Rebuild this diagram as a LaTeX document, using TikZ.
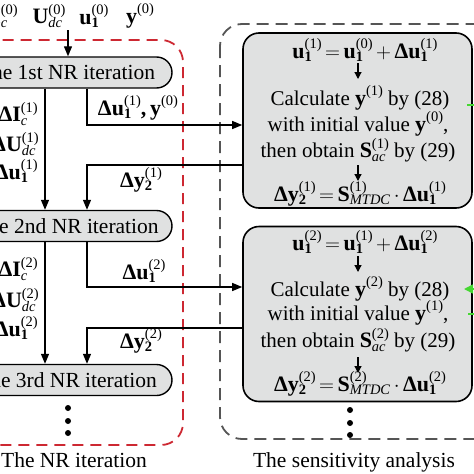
\documentclass[tikz,border=0pt]{standalone}
\usepackage{amsmath}
\usepackage{fontspec}
\setmainfont{Liberation Serif}
\usetikzlibrary{arrows.meta}
\definecolor{nrred}{RGB}{205,40,50}
\definecolor{sagray}{RGB}{85,85,85}
\definecolor{boxfill}{RGB}{224,225,225}
\definecolor{grn}{RGB}{70,215,50}
% bold symbol
\newcommand{\M}[1]{{\fontsize{22}{22}\selectfont\bfseries #1}}
% stacked sub/superscript: #1 sub, #2 sup
\newcommand{\SB}[2]{{\fontsize{14.5}{14.5}\selectfont
  \setbox0=\hbox{\raisebox{-3.5pt}{#1}}%
  \setbox2=\hbox{\raisebox{9.5pt}{#2}}%
  \ifdim\wd0>\wd2 \rlap{\box2}\box0\else\rlap{\box0}\box2\fi}}
\newcommand{\Eq}{\,$=$\,}
\begin{document}
\begin{tikzpicture}[x=1pt,y=-1pt,
  txt/.style={font=\fontsize{21}{25}\selectfont, inner sep=0pt},
  pill/.style={draw=black, line width=1.4pt, fill=boxfill, rounded corners=15.5pt,
    minimum height=31pt, minimum width=210pt, inner sep=0pt, font=\fontsize{21.5}{25}\selectfont},
  box/.style={draw=black, line width=1.6pt, fill=boxfill, rounded corners=16pt,
    minimum width=229pt, minimum height=175pt, inner sep=0pt},
  arr/.style={line width=1.3pt, -{Triangle[length=10pt,width=8pt]}},
  darr/.style={line width=1.2pt, -{Triangle[length=7pt,width=7pt]}},
  dot/.style={circle, fill=black, inner sep=0pt, minimum size=6pt},
  reddash/.style={draw=nrred, line width=1.8pt, dash pattern=on 11pt off 7pt, rounded corners=22pt},
  graydash/.style={draw=sagray, line width=1.8pt, dash pattern=on 12pt off 7pt, rounded corners=22pt},
  grline/.style={draw=grn, line width=1.6pt}
]
\useasboundingbox (0,0) rectangle (474,474);
\clip (0,0) rectangle (474,474);

% frames
\draw[reddash] (-40,40) rectangle (183,445);
\draw[graydash] (220,24) rectangle (510,439);

% top labels
\node[txt, anchor=east] (t1) at (18,16) {\M{I}\SB{\textit{c}}{(0)}};
\node[txt] (t2) at (49,16) {\M{U}\SB{\textit{dc}}{(0)}};
\node[txt] (t3) at (94,16) {\M{u}\SB{\textbf{1}}{(0)}};
\node[txt] (t4) at (140,16) {\M{y}\SB{}{(0)}};

% NR iteration pills
\node[pill] (n1) at (67,72.5) {The 1st NR iteration};
\node[pill] (n2) at (67,226) {The 2nd NR iteration};
\node[pill] (n3) at (67,380) {The 3rd NR iteration};

\coordinate (xa) at (45,0);
\coordinate (xb) at (87,0);
\coordinate (xt) at (68,0);
\coordinate (top) at (68,30);

\draw[arr] (top) -- (n1.north -| xt);
\draw[arr] (n1.south -| xa) -- (n2.north -| xa);
\draw[arr] (n2.south -| xa) -- (n3.north -| xa);

% left labels
\node[txt, anchor=east] (la1) at (38,114) {\M{ΔI}\SB{\textit{c}}{(1)}};
\node[txt, anchor=east] (la2) at (39,144) {\M{ΔU}\SB{\textit{dc}}{(1)}};
\node[txt, anchor=east] (la3) at (38,171) {\M{Δu}\SB{\textbf{1}}{(1)}};
\node[txt, anchor=east] (lb1) at (38,269) {\M{ΔI}\SB{\textit{c}}{(2)}};
\node[txt, anchor=east] (lb2) at (39,300) {\M{ΔU}\SB{\textit{dc}}{(2)}};
\node[txt, anchor=east] (lb3) at (38,328) {\M{Δu}\SB{\textbf{1}}{(2)}};

% sensitivity boxes
\node[box] (b1) at (357.5,120.5) {};
\node[box] (b2) at (357.5,314) {};

% connectors between columns
\coordinate (yf1) at (0,125);
\coordinate (yr1) at (0,165);
\coordinate (yf2) at (0,287);
\coordinate (yr2) at (0,328);
\draw[arr] (n1.south -| xb) |- (b1.west |- yf1);
\draw[arr] (b1.west |- yr1) -| (n2.north -| xb);
\draw[arr] (n2.south -| xb) |- (b2.west |- yf2);
\draw[arr] (b2.west |- yr2) -| (n3.north -| xb);

\node[txt] (f1) at (138,108) {\M{Δu}\SB{\textbf{1}}{(1)}\M{,\,y}\SB{}{(0)}};
\node[txt] (r1) at (141,180) {\M{Δy}\SB{\textbf{2}}{(1)}};
\node[txt] (f2) at (144,271) {\M{Δu}\SB{\textbf{1}}{(2)}};
\node[txt] (r2) at (141,341) {\M{Δy}\SB{\textbf{2}}{(2)}};

% box 1 text
\node[txt] (p1) at (365,50) {\M{u}\SB{\textbf{1}}{(1)}\Eq\M{u}\SB{\textbf{1}}{(0)}\,$+$\,\M{Δu}\SB{\textbf{1}}{(1)}};
\node[txt] (p2) at (360,98) {Calculate \M{y}\SB{}{(1)} by (28)};
\node[txt] (p3) at (358,124) {with initial value \M{y}\SB{}{(0)},};
\node[txt] (p4) at (358,150) {then obtain \M{S}\SB{\textit{ac}}{(1)} by (29)};
\node[txt] (p5) at (360,194) {\M{Δy}\SB{\textbf{2}}{(1)}\Eq\M{S}\SB{\textit{MTDC}}{(1)}\,$\cdot$\,\M{Δu}\SB{\textbf{1}}{(1)}};
\coordinate (pa1) at (358,63);
\coordinate (pa2) at (358,165);
\draw[darr] (pa1) -- ++(0,16);
\draw[darr] (pa2) -- ++(0,16);

% box 2 text
\node[txt] (q1) at (365,242) {\M{u}\SB{\textbf{1}}{(2)}\Eq\M{u}\SB{\textbf{1}}{(1)}\,$+$\,\M{Δu}\SB{\textbf{1}}{(2)}};
\node[txt] (q2) at (360,289) {Calculate \M{y}\SB{}{(2)} by (28)};
\node[txt] (q3) at (358,313) {with initial value \M{y}\SB{}{(1)},};
\node[txt] (q4) at (358,340) {then obtain \M{S}\SB{\textit{ac}}{(2)} by (29)};
\node[txt] (q5) at (360,384) {\M{Δy}\SB{\textbf{2}}{(2)}\Eq\M{S}\SB{\textit{MTDC}}{(2)}\,$\cdot$\,\M{Δu}\SB{\textbf{1}}{(2)}};
\coordinate (qa1) at (358,256);
\coordinate (qa2) at (358,357);
\draw[darr] (qa1) -- ++(0,16);
\draw[darr] (qa2) -- ++(0,16);

% dots
\node[dot] (d1) at (68,408) {};
\node[dot] (d2) at (68,421) {};
\node[dot] (d3) at (68,433) {};
\node[dot] (e1) at (350,410) {};
\node[dot] (e2) at (350,423) {};
\node[dot] (e3) at (350,435) {};

% green connectors entering from the right
\coordinate (g1) at (467,105);
\coordinate (g2) at (464,289);
\coordinate (g2s) at (480,289);
\coordinate (g3) at (468,314);
\draw[grline] (g1) -- ++(12,0);
\draw[grline, -{Triangle[length=9pt,width=9pt]}] (g2s) -- (g2);
\draw[grline] (g3) -- ++(12,0);

% captions
\node[txt, font=\fontsize{21.5}{25}\selectfont] (c1) at (74,460) {The NR iteration};
\node[txt, font=\fontsize{21.5}{25}\selectfont] (c2) at (354,462) {The sensitivity analysis};
\end{tikzpicture}
\end{document}
